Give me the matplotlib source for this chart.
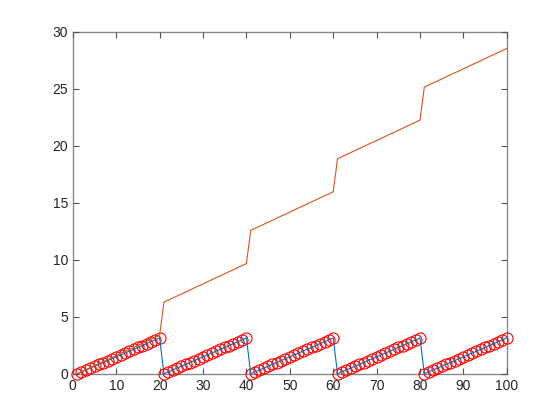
import matplotlib
matplotlib.use('Agg')
import matplotlib.pyplot as plt

# sample index
x = list(range(1, 101))

# wrapped values (sawtooth)
wrapped = [
    0.00, 0.17, 0.33, 0.50, 0.66, 0.83, 0.99, 1.16, 1.32, 1.49,
    1.65, 1.82, 1.98, 2.15, 2.31, 2.48, 2.65, 2.81, 2.98, 3.14,
    0.00, 0.17, 0.33, 0.50, 0.66, 0.83, 0.99, 1.16, 1.32, 1.49,
    1.65, 1.82, 1.98, 2.15, 2.31, 2.48, 2.65, 2.81, 2.98, 3.14,
    0.00, 0.17, 0.33, 0.50, 0.66, 0.83, 0.99, 1.16, 1.32, 1.49,
    1.65, 1.82, 1.98, 2.15, 2.31, 2.48, 2.65, 2.81, 2.98, 3.14,
    0.00, 0.17, 0.33, 0.50, 0.66, 0.83, 0.99, 1.16, 1.32, 1.49,
    1.65, 1.82, 1.98, 2.15, 2.31, 2.48, 2.65, 2.81, 2.98, 3.14,
    0.00, 0.17, 0.33, 0.50, 0.66, 0.83, 0.99, 1.16, 1.32, 1.49,
    1.65, 1.82, 1.98, 2.15, 2.31, 2.48, 2.65, 2.81, 2.98, 3.14,
]

# unwrapped values (staircase)
unwrapped = [
    0.00, 0.18, 0.36, 0.53, 0.71, 0.89, 1.07, 1.25, 1.42, 1.60,
    1.78, 1.96, 2.14, 2.31, 2.49, 2.67, 2.85, 3.03, 3.20, 3.38,
    6.28, 6.46, 6.64, 6.81, 6.99, 7.17, 7.35, 7.53, 7.70, 7.88,
    8.06, 8.24, 8.42, 8.59, 8.77, 8.95, 9.13, 9.31, 9.48, 9.66,
    12.57, 12.75, 12.93, 13.10, 13.28, 13.46, 13.64, 13.82, 13.99, 14.17,
    14.35, 14.53, 14.71, 14.88, 15.06, 15.24, 15.42, 15.60, 15.77, 15.95,
    18.85, 19.03, 19.21, 19.38, 19.56, 19.74, 19.92, 20.10, 20.27, 20.45,
    20.63, 20.81, 20.99, 21.16, 21.34, 21.52, 21.70, 21.88, 22.05, 22.23,
    25.13, 25.31, 25.49, 25.66, 25.84, 26.02, 26.20, 26.38, 26.55, 26.73,
    26.91, 27.09, 27.27, 27.44, 27.62, 27.80, 27.98, 28.16, 28.33, 28.51,
]

xticks = list(range(0, 101, 10))
yticks = list(range(0, 31, 5))

plt.rcParams['font.family'] = ['Liberation Sans', 'DejaVu Sans']

fig = plt.figure(figsize=(5.6, 4.2), dpi=100)
ax = fig.add_axes([0.13, 0.11, 0.775, 0.815])

ax.plot(x, wrapped, 'o', mfc='none', mec='#FF0000', ms=8, mew=0.8,
        zorder=2, clip_on=False)
ax.plot(x, wrapped, color='#0072BD', lw=0.8, zorder=3)
ax.plot(x, unwrapped, color='#D95319', lw=0.8, zorder=4)

ax.set_xlim(0, 100)
ax.set_ylim(0, 30)
ax.set_xticks(xticks)
ax.set_yticks(yticks)

axcol = '#8a8a8a'
for s in ax.spines.values():
    s.set_color(axcol)
    s.set_linewidth(1.0)
    s.set_zorder(1)
ax.tick_params(direction='in', top=True, right=True, length=4, width=0.8,
               colors='#555555', labelsize=10, labelcolor='#262626')

fig.savefig('out.png', dpi=100)
